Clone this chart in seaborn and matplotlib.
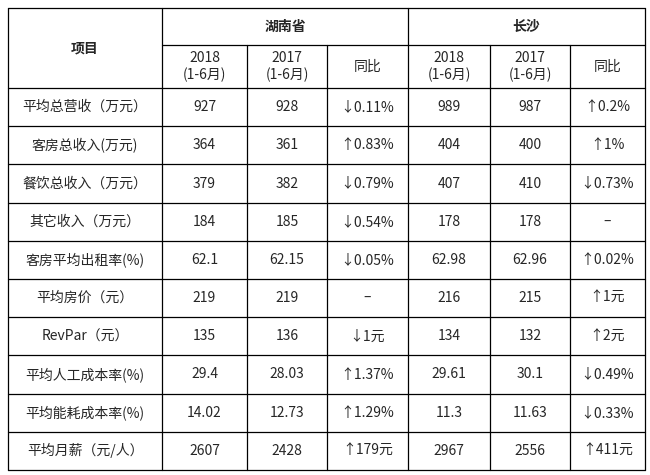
import matplotlib
matplotlib.use("Agg")
import matplotlib.pyplot as plt
import seaborn as sns

sns.set_theme(style="white")
plt.rcParams['font.family'] = ['Noto Sans CJK SC', 'DejaVu Sans']

items = ["平均总营收（万元）", "客房总收入(万元)", "餐饮总收入（万元）", "其它收入（万元）",
         "客房平均出租率(%)", "平均房价（元）", "RevPar（元）", "平均人工成本率(%)",
         "平均能耗成本率(%)", "平均月薪（元/人）"]
hn2018 = ["927", "364", "379", "184", "62.1", "219", "135", "29.4", "14.02", "2607"]
hn2017 = ["928", "361", "382", "185", "62.15", "219", "136", "28.03", "12.73", "2428"]
hn_yoy = ["↓0.11%", "↑0.83%", "↓0.79%", "↓0.54%", "↓0.05%", "–", "↓1元", "↑1.37%", "↑1.29%", "↑179元"]
cs2018 = ["989", "404", "407", "178", "62.98", "216", "134", "29.61", "11.3", "2967"]
cs2017 = ["987", "400", "410", "178", "62.96", "215", "132", "30.1", "11.63", "2556"]
cs_yoy = ["↑0.2%", "↑1%", "↓0.73%", "–", "↑0.02%", "↑1元", "↑2元", "↓0.49%", "↓0.33%", "↑411元"]
groups = ["湖南省", "长沙"]
subheads = ["2018\n(1-6月)", "2017\n(1-6月)", "同比"]

fig = plt.figure(figsize=(6.5, 4.75), dpi=100)
ax = fig.add_axes([0, 0, 1, 1])
ax.set_xlim(0, 650); ax.set_ylim(475, 0); ax.axis("off")

xs = [8, 162, 247, 327, 408, 490, 570, 645]
y0, y1, y2 = 8, 45, 88
n = len(items)
rh = (470 - y2) / n
yb = 470
lw = 0.9
kw = dict(color="black", lw=lw)
# horizontal lines
ax.plot([xs[0], xs[-1]], [y0, y0], **kw)
ax.plot([xs[1], xs[-1]], [y1, y1], **kw)
for i in range(n + 1):
    y = y2 + i * rh
    ax.plot([xs[0], xs[-1]], [y, y], **kw)
# vertical lines
for j, x in enumerate(xs):
    top = y0 if j in (0, 1, 4, 7) else y1
    ax.plot([x, x], [top, yb], **kw)

fs = 10
ax.text((xs[0] + xs[1]) / 2, (y0 + y2) / 2, "项目", ha="center", va="center", fontsize=fs, weight="bold")
for g, name in enumerate(groups):
    ax.text((xs[1 + 3 * g] + xs[4 + 3 * g]) / 2, (y0 + y1) / 2, name, ha="center", va="center",
            fontsize=fs, weight="bold")
    for k, s in enumerate(subheads):
        c = 1 + 3 * g + k
        ax.text((xs[c] + xs[c + 1]) / 2, (y1 + y2) / 2, s, ha="center", va="center",
                fontsize=fs, linespacing=1.2)

cols = [items, hn2018, hn2017, hn_yoy, cs2018, cs2017, cs_yoy]
for c, col in enumerate(cols):
    for i, v in enumerate(col):
        ax.text((xs[c] + xs[c + 1]) / 2, y2 + (i + 0.5) * rh, v, ha="center", va="center", fontsize=fs)

fig.savefig("out.png", dpi=100, facecolor="white")
